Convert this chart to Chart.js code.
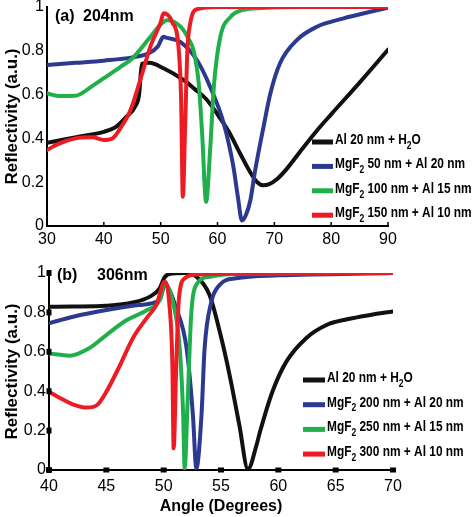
<!DOCTYPE html>
<html>
<head>
<meta charset="utf-8">
<script src="https://cdn.jsdelivr.net/npm/chart.js@4.4.0/dist/chart.umd.min.js"></script>
<style>
  html, body { margin: 0; padding: 0; background: #fff; }
  canvas { display: block; }
</style>
</head>
<body>
<canvas id="chartA" width="474" height="250"></canvas>
<canvas id="chartB" width="474" height="267"></canvas>
<script>
/* ---------------- data: (a) 204 nm ---------------- */
const labelsA = ['Al 20 nm + H₂O', 'MgF₂ 50 nm + Al 20 nm', 'MgF₂ 100 nm + Al 15 nm', 'MgF₂ 150 nm + Al 10 nm'];

const blackA_x = [30, 33, 36, 40, 42, 44, 45.5, 46.2, 46.7, 48, 50.5, 54, 56, 58, 60, 62, 64, 66, 67, 68, 69, 70.5, 72, 75, 77.8, 80, 85, 90];
const blackA_y = [0.38, 0.395, 0.41, 0.43, 0.45, 0.50, 0.545, 0.60, 0.74, 0.745, 0.72, 0.667, 0.625, 0.58, 0.51, 0.43, 0.33, 0.235, 0.2, 0.186, 0.19, 0.215, 0.255, 0.355, 0.445, 0.51, 0.655, 0.805];

const blueA_x = [30, 35, 40, 45, 48, 49.5, 50.5, 51, 53.5, 56.4, 58.7, 61.1, 62.8, 63.6, 64.3, 65, 65.8, 66.6, 68.1, 69.3, 71, 74, 77.5, 82.2, 86.9, 90];
const blueA_y = [0.735, 0.745, 0.755, 0.77, 0.79, 0.82, 0.864, 0.86, 0.84, 0.757, 0.636, 0.468, 0.27, 0.13, 0.025, 0.05, 0.12, 0.25, 0.453, 0.605, 0.743, 0.85, 0.91, 0.948, 0.978, 0.997];

const greenA_x = [30, 32, 35, 38, 40, 43, 45, 48.2, 50, 51.1, 53.5, 55, 55.8, 56.7, 57.3, 58, 58.7, 59.4, 60.5, 62.3, 64, 68, 75, 90];
const greenA_y = [0.606, 0.594, 0.595, 0.64, 0.675, 0.728, 0.765, 0.864, 0.92, 0.94, 0.91, 0.85, 0.80, 0.65, 0.42, 0.11, 0.346, 0.65, 0.864, 0.955, 0.983, 0.995, 1.0, 1.0];

const redA_x = [30, 32, 35, 38, 40, 41.5, 43, 44.7, 46.4, 48.2, 50, 50.5, 52, 53.2, 53.6, 53.9, 54.3, 54.7, 55.2, 56.4, 60, 90];
const redA_y = [0.347, 0.375, 0.4, 0.405, 0.393, 0.4, 0.45, 0.53, 0.666, 0.82, 0.93, 0.971, 0.933, 0.80, 0.575, 0.133, 0.45, 0.80, 0.925, 0.99, 1.0, 1.0];

/* ---------------- data: (b) 306 nm ---------------- */
const labelsB = ['Al 20 nm + H₂O', 'MgF₂ 200 nm + Al 20 nm', 'MgF₂ 250 nm + Al 15 nm', 'MgF₂ 300 nm + Al 10 nm'];

const blackB_x = [40, 42, 45, 47.3, 48.8, 49.65, 50.1, 50.8, 52, 52.85, 54, 54.9, 55.75, 56.6, 57.35, 58.1, 58.4, 59.5, 60.7, 62.4, 64.2, 66, 68, 70];
const blackB_y = [0.829, 0.83, 0.834, 0.85, 0.88, 0.922, 0.98, 0.998, 1.0, 0.981, 0.888, 0.70, 0.482, 0.228, 0.005, 0.127, 0.194, 0.40, 0.55, 0.668, 0.736, 0.765, 0.787, 0.805];

const blueB_x = [40, 42.1, 45, 47.9, 49.65, 50.1, 51.1, 52, 52.55, 52.85, 53.3, 53.57, 54.16, 54.9, 56.3, 60, 70];
const blueB_y = [0.745, 0.778, 0.812, 0.838, 0.863, 0.94, 0.82, 0.618, 0.28, 0.008, 0.28, 0.618, 0.854, 0.94, 0.973, 0.988, 1.0];

const greenB_x = [40, 41.8, 43.5, 45, 46.75, 48.5, 49.65, 50.1, 50.8, 51.4, 51.7, 51.83, 52.1, 52.4, 52.85, 54, 56, 70];
const greenB_y = [0.592, 0.58, 0.618, 0.685, 0.76, 0.81, 0.863, 0.947, 0.854, 0.618, 0.28, 0.008, 0.364, 0.787, 0.94, 0.981, 0.995, 1.0];

const redB_x = [40, 41, 42, 43.3, 44.2, 45, 46.2, 47.3, 48.5, 49.36, 50.1, 50.5, 50.76, 50.87, 51.1, 51.33, 51.83, 52.85, 70];
const redB_y = [0.397, 0.364, 0.335, 0.317, 0.33, 0.397, 0.533, 0.668, 0.77, 0.838, 0.956, 0.84, 0.533, 0.11, 0.533, 0.87, 0.973, 0.993, 1.0];

const yTicks = [0, 0.2, 0.4, 0.6, 0.8, 1];
const yTickLabels = ['0', '0.2', '0.4', '0.6', '0.8', '1'];

/* ---------------- styles ---------------- */
const colors = ['#111111', '#2b3990', '#1fb04b', '#ed1c24'];
const FONT = "'Liberation Sans', Arial, sans-serif";

const zip = (xs, ys) => xs.map((x, i) => ({x: x, y: ys[i]}));

// legend with real subscripts (₂ drawn as a lowered small "2")
const subLegend = {
  id: 'subLegend',
  afterDatasetsDraw(chart, args, opts) {
    const ctx = chart.ctx;
    ctx.save();
    chart.data.datasets.forEach((ds, i) => {
      const y = opts.top + i * opts.step;
      ctx.fillStyle = ds.borderColor;
      ctx.fillRect(opts.left, y - 2.5, opts.lineLen, 5);
      ctx.save();
      ctx.translate(opts.left + opts.lineLen + 2, y - 2);
      ctx.scale(0.85, 1);
      ctx.fillStyle = '#000';
      ctx.textBaseline = 'middle';
      let x = 0;
      const parts = ds.label.split('₂');
      parts.forEach((p, k) => {
        ctx.font = 'bold 14px ' + FONT;
        ctx.fillText(p, x, 0);
        x += ctx.measureText(p).width;
        if (k < parts.length - 1) {
          ctx.font = 'bold 10px ' + FONT;
          ctx.fillText('2', x, 6);
          x += ctx.measureText('2').width;
        }
      });
      ctx.restore();
    });
    ctx.restore();
  }
};

// "(a)  204nm" style panel label
const panelLabel = {
  id: 'panelLabel',
  afterDraw(chart, args, opts) {
    const ctx = chart.ctx;
    ctx.save();
    ctx.font = 'bold 16px ' + FONT;
    ctx.fillStyle = '#000';
    ctx.textBaseline = 'middle';
    ctx.fillText(opts.tag, opts.x1, opts.y);
    ctx.fillText(opts.text, opts.x2, opts.y);
    ctx.restore();
  }
};

// tick marks sitting on/inside the axes
const innerTicks = {
  id: 'innerTicks',
  afterDraw(chart, args, opts) {
    const ctx = chart.ctx;
    const area = chart.chartArea;
    ctx.save();
    ctx.fillStyle = '#000';
    chart.scales.x.ticks.forEach(t => {
      const px = chart.scales.x.getPixelForValue(t.value);
      ctx.fillRect(px - opts.w / 2, area.bottom - opts.len + opts.shift, opts.w, opts.len);
    });
    if (opts.yAxis) {
      chart.scales.y.ticks.forEach(t => {
        const py = chart.scales.y.getPixelForValue(t.value);
        ctx.fillRect(area.left - opts.shift, py - opts.w / 2, opts.len, opts.w);
      });
    }
    ctx.restore();
  }
};

function makePanel(id, cfg) {
  const datasets = cfg.series.map((s, i) => ({
    label: cfg.labels[i],
    data: zip(s[0], s[1]),
    borderColor: colors[i],
    borderWidth: 4,
    pointRadius: 0,
    fill: false,
    tension: 0.4,
    cubicInterpolationMode: 'monotone',
    borderJoinStyle: 'round',
    borderCapStyle: 'round',
    order: 3 - i
  }));

  return new Chart(document.getElementById(id), {
    type: 'line',
    data: {datasets: datasets},
    options: {
      responsive: false,
      animation: false,
      devicePixelRatio: 1,
      layout: {padding: cfg.padding},
      plugins: {
        legend: {display: false},
        tooltip: {enabled: false},
        subLegend: cfg.legend,
        panelLabel: cfg.panel,
        innerTicks: cfg.ticks
      },
      scales: {
        x: {
          type: 'linear',
          min: cfg.xMin, max: cfg.xMax,
          afterBuildTicks: s => { s.ticks = cfg.xTicks.map(v => ({value: v})); },
          ticks: {font: {family: FONT, size: 16}, color: '#000', padding: cfg.xPad, maxRotation: 0,
                  callback: v => String(v)},
          grid: {display: false, drawTicks: false},
          border: {display: true, color: '#000', width: 2},
          title: cfg.xTitle ? {display: true, text: cfg.xTitle, color: '#000',
                               font: {family: FONT, size: 16, weight: 'bold'}, padding: {top: 0, bottom: 1}} : {display: false},
          afterFit: s => { s.height = cfg.xHeight; s.paddingLeft = 0; s.paddingRight = 0; }
        },
        y: {
          min: 0, max: 1,
          afterBuildTicks: s => { s.ticks = yTicks.map(v => ({value: v})); },
          ticks: {font: {family: FONT, size: 16}, color: '#000', padding: 3,
                  callback: (v, i) => yTickLabels[i]},
          grid: {display: false, drawTicks: false},
          border: {display: true, color: '#000', width: 2},
          title: {display: true, text: 'Reflectivity (a.u.)', color: '#000',
                  font: {family: FONT, size: 17, weight: 'bold'}, padding: {top: 2, bottom: 0}},
          afterFit: s => { s.width = cfg.yWidth; s.paddingTop = 0; s.paddingBottom = 0; }
        }
      }
    },
    plugins: [subLegend, panelLabel, innerTicks]
  });
}

makePanel('chartA', {
  labels: labelsA,
  series: [[blackA_x, blackA_y], [blueA_x, blueA_y], [greenA_x, greenA_y], [redA_x, redA_y]],
  xMin: 30, xMax: 90, xTicks: [30, 40, 50, 60, 70, 80, 90],
  padding: {top: 7, right: 86, left: 0, bottom: 0},
  xHeight: 24, yWidth: 47, xPad: 4,
  legend: {left: 312, lineLen: 21, top: 142, step: 24.4},
  panel: {tag: '(a)', text: '204nm', x1: 55, x2: 83, y: 17},
  ticks: {w: 1.5, len: 4, shift: 0, yAxis: false}
});

makePanel('chartB', {
  labels: labelsB,
  series: [[blackB_x, blackB_y], [blueB_x, blueB_y], [greenB_x, greenB_y], [redB_x, redB_y]],
  xMin: 40, xMax: 70, xTicks: [40, 45, 50, 55, 60, 65, 70],
  padding: {top: 23, right: 81, left: 0, bottom: 0},
  xHeight: 47, yWidth: 49, xPad: 7, xTitle: 'Angle (Degrees)',
  legend: {left: 303, lineLen: 22, top: 130, step: 24.7},
  panel: {tag: '(b)', text: '306nm', x1: 57, x2: 97, y: 26},
  ticks: {w: 6, len: 5, shift: 2.5, yAxis: true}
});
</script>
</body>
</html>
